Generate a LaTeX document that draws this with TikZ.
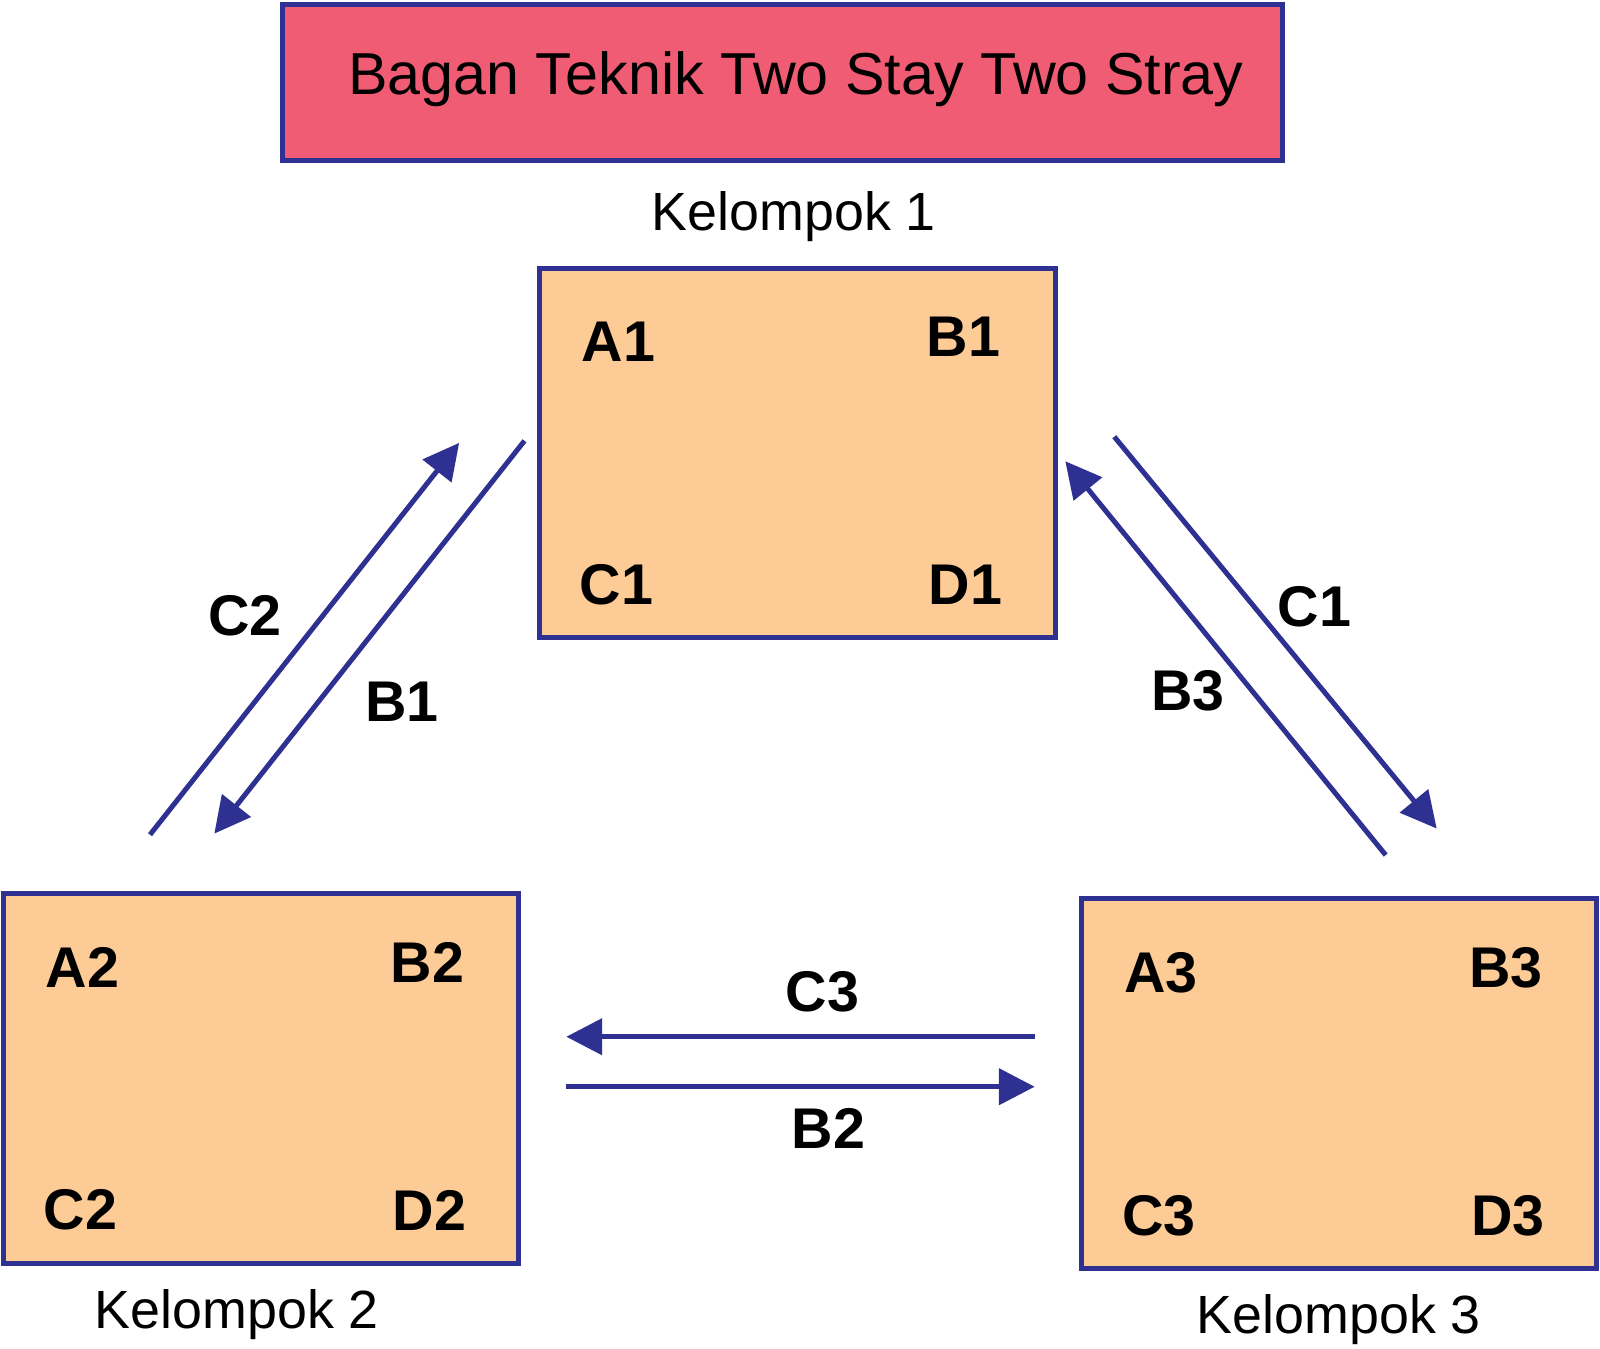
\documentclass[tikz,border=0pt]{standalone}
\usepackage{fontspec}
\setmainfont{Liberation Sans}
\usetikzlibrary{arrows.meta}
\definecolor{navy}{HTML}{2E3192}
\definecolor{peach}{HTML}{FDCB95}
\definecolor{rose}{HTML}{F05C73}
\begin{document}
\begin{tikzpicture}[x=0.01cm,y=-0.01cm,
  box/.style={draw=navy,line width=1.4pt,fill=peach},
  lbl/.style={font=\fontsize{16}{18}\selectfont\bfseries},
  grp/.style={font=\fontsize{15}{18}\selectfont},
  arr/.style={draw=navy,line width=1.4pt,-{Triangle[length=10pt,width=10pt]}}]
\useasboundingbox (0,0) rectangle (1568,1322);
\filldraw[draw=navy,line width=1.4pt,fill=rose] (277,4) rectangle (1257,157);
\node[font=\fontsize{16.5}{20}\selectfont] (title) at (780,78) {Bagan Teknik Two Stay Two Stray};
\filldraw[box] (529,263) rectangle (1034,625);
\filldraw[box] (3,876) rectangle (508,1238);
\filldraw[box] (1060,881) rectangle (1565,1243);
\node[lbl] (a1) at (606,335) {A1}; \node[lbl] (b1) at (944,330) {B1};
\node[lbl] (c1) at (604,573) {C1}; \node[lbl] (d1) at (946,573) {D1};
\node[lbl] (a2) at (81,948) {A2}; \node[lbl] (b2) at (419,943) {B2};
\node[lbl] (c2) at (79,1186) {C2}; \node[lbl] (d2) at (421,1186) {D2};
\node[lbl] (a3) at (1138,953) {A3}; \node[lbl] (b3) at (1476,948) {B3};
\node[lbl] (c3) at (1136,1191) {C3}; \node[lbl] (d3) at (1478,1191) {D3};
\node[grp] (k1) at (778,212) {Kelompok 1};
\node[grp] (k2) at (232,1288) {Kelompok 2};
\node[grp] (k3) at (1312,1293) {Kelompok 3};
\coordinate (p1) at (147,818); \coordinate (p2) at (450,434);
\coordinate (p3) at (514,432); \coordinate (p4) at (210,817);
\coordinate (p5) at (1092,428); \coordinate (p6) at (1408,812);
\coordinate (p7) at (1358,838); \coordinate (p8) at (1044,452);
\coordinate (p9) at (1014,1016); \coordinate (p10) at (555,1016);
\coordinate (p11) at (555,1065); \coordinate (p12) at (1014,1065);
\draw[arr] (p1) -- (p2); \draw[arr] (p3) -- (p4);
\draw[arr] (p5) -- (p6); \draw[arr] (p7) -- (p8);
\draw[arr] (p9) -- (p10); \draw[arr] (p11) -- (p12);
\node[lbl] (lc2) at (240,603) {C2}; \node[lbl] (lb1) at (394,688) {B1};
\node[lbl] (lc1) at (1288,595) {C1}; \node[lbl] (lb3) at (1164,677) {B3};
\node[lbl] (lc3) at (806,972) {C3}; \node[lbl] (lb2) at (812,1106) {B2};
\end{tikzpicture}
\end{document}
